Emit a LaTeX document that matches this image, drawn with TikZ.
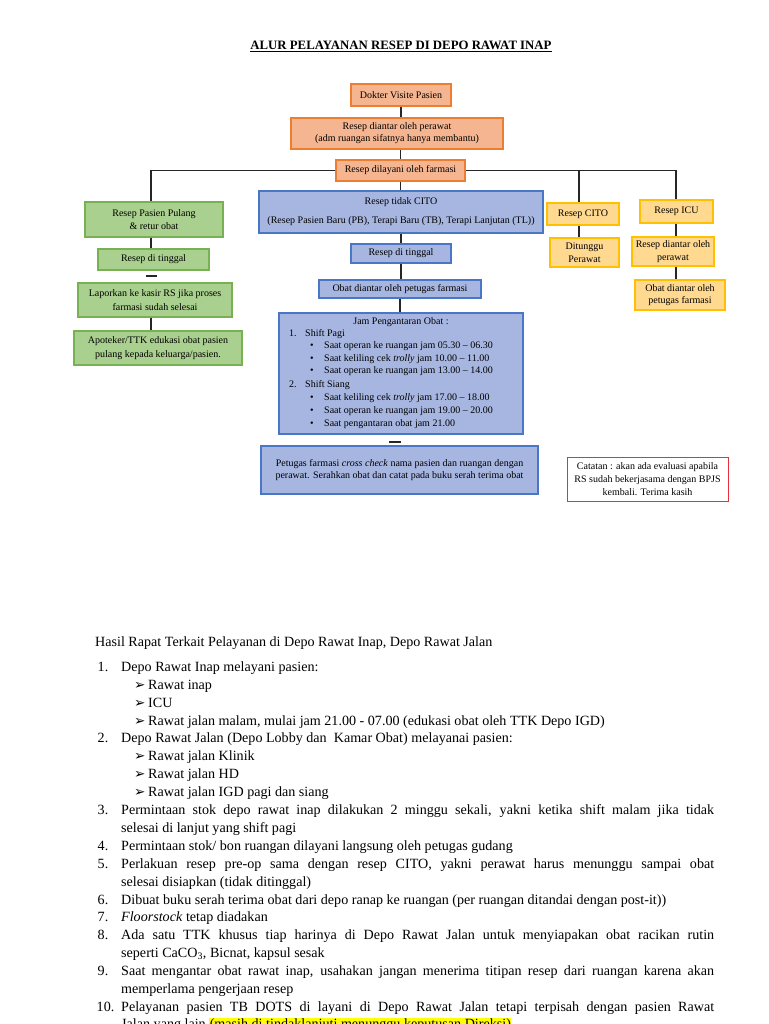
\documentclass[tikz,border=0pt]{standalone}
\usepackage{fontspec}
\setmainfont{Liberation Serif}
\newfontfamily\djv{DejaVu Sans}
\usetikzlibrary{calc}
\definecolor{salF}{HTML}{F5B590}
\definecolor{salD}{HTML}{ED7D31}
\definecolor{grnF}{HTML}{A9D08E}
\definecolor{grnD}{HTML}{77B152}
\definecolor{bluF}{HTML}{A7B6E1}
\definecolor{bluD}{HTML}{4A76C6}
\definecolor{yelF}{HTML}{FFD98F}
\definecolor{yelD}{HTML}{FFC000}
\definecolor{redD}{HTML}{E8303A}
\definecolor{hiY}{HTML}{FFFF00}
\begin{document}
\begin{tikzpicture}[x=1pt,y=-1pt,
  box/.style={draw, line width=1.1pt, inner sep=0pt, align=center,
    font=\fontsize{10}{13}\selectfont},
  sal/.style={box, fill=salF, draw=salD},
  grn/.style={box, fill=grnF, draw=grnD},
  blu/.style={box, fill=bluF, draw=bluD},
  yel/.style={box, fill=yelF, draw=yelD},
  conn/.style={draw=black!85, line width=1.2pt},
  lt/.style={anchor=mid west, inner sep=0pt, font=\fontsize{10}{12}\selectfont},
  bt/.style={anchor=mid west, inner sep=0pt, font=\fontsize{14.1}{17}\selectfont},
  arr/.style={anchor=mid west, inner sep=0pt, font=\djv\fontsize{13.5}{14}\selectfont}
]
\useasboundingbox (0,0) rectangle (768,1024);
\fill[white] (0,0) rectangle (768,1024);

% title
\node[inner sep=0pt, font=\bfseries\fontsize{12.8}{14}\selectfont] (title) at (401,46) {\underline{ALUR PELAYANAN RESEP DI DEPO RAWAT INAP}};

% top chain
\node[sal, minimum width=100pt, minimum height=22pt] (dok) at (401,95) {Dokter Visite Pasien};
\node[sal, minimum width=212pt, minimum height=31pt, font=\fontsize{10}{12}\selectfont] (ant) at (397,133.5) {Resep diantar oleh perawat\\(adm ruangan sifatnya hanya membantu)};
\node[sal, minimum width=129pt, minimum height=21pt] (lay) at (400.5,170.5) {Resep dilayani oleh farmasi};

% green column
\node[grn, minimum width=138pt, minimum height=35pt] (pul) at (154,219.5) {Resep Pasien Pulang\\\& retur obat};
\node[grn, minimum width=111pt, minimum height=21pt] (tgG) at (153.5,259.5) {Resep di tinggal};
\node[grn, minimum width=154pt, minimum height=34pt, font=\fontsize{10}{14}\selectfont] (lap) at (155,300) {Laporkan ke kasir RS jika proses\\farmasi sudah selesai};
\node[grn, minimum width=168pt, minimum height=34pt, font=\fontsize{10}{14}\selectfont] (apo) at (158,348) {Apoteker/TTK edukasi obat pasien\\pulang kepada keluarga/pasien.};

% blue column
\node[blu, minimum width=284pt, minimum height=42pt] (tdk) at (401,212) {Resep tidak CITO\\[6pt](Resep Pasien Baru (PB), Terapi Baru (TB), Terapi Lanjutan (TL))};
\node[blu, minimum width=100pt, minimum height=19pt] (tgB) at (401,253.5) {Resep di tinggal};
\node[blu, minimum width=162pt, minimum height=18pt] (obt) at (400,289) {Obat diantar oleh petugas farmasi};
\node[blu, minimum width=244pt, minimum height=121pt] (jam) at (401,373.5) {};
\node[blu, minimum width=277pt, minimum height=48pt, font=\fontsize{10}{11.8}\selectfont] (ptg) at (399.5,470) {Petugas farmasi \textit{cross check} nama pasien dan ruangan dengan\\perawat. Serahkan obat dan catat pada buku serah terima obat};

% jam list
\node[lt, anchor=mid] (jt) at (401,322.7) {Jam Pengantaran Obat :};
\node[lt] (j1n) at (289,334) {1.};
\node[lt] (j1) at (305,334) {Shift Pagi};
\node[lt] (b1) at (310,346) {•};
\node[lt] (jb1) at (324,346) {Saat operan ke ruangan jam 05.30 – 06.30};
\node[lt] (b2) at (310,359) {•};
\node[lt] (jb2) at (324,359) {Saat keliling cek \textit{trolly} jam 10.00 – 11.00};
\node[lt] (b3) at (310,371.7) {•};
\node[lt] (jb3) at (324,371.7) {Saat operan ke ruangan jam 13.00 – 14.00};
\node[lt] (j2n) at (289,385) {2.};
\node[lt] (j2) at (305,385) {Shift Siang};
\node[lt] (b4) at (310,398) {•};
\node[lt] (jb4) at (324,398) {Saat keliling cek \textit{trolly} jam 17.00 – 18.00};
\node[lt] (b5) at (310,411) {•};
\node[lt] (jb5) at (324,411) {Saat operan ke ruangan jam 19.00 – 20.00};
\node[lt] (b6) at (310,424) {•};
\node[lt] (jb6) at (324,424) {Saat pengantaran obat jam 21.00};

% orange columns
\node[yel, minimum width=72pt, minimum height=22pt] (cito) at (583,214) {Resep CITO};
\node[yel, minimum width=69pt, minimum height=29pt] (tgu) at (584.5,252.5) {Ditunggu\\Perawat};
\node[yel, minimum width=73pt, minimum height=23pt] (icu) at (676.5,211.5) {Resep ICU};
\node[yel, minimum width=82pt, minimum height=29pt] (antI) at (673,251.5) {Resep diantar oleh\\perawat};
\node[yel, minimum width=90pt, minimum height=30pt, font=\fontsize{10}{12.5}\selectfont] (obtI) at (680,295) {Obat diantar oleh\\petugas farmasi};

% note
\node[box, fill=white, draw=redD, line width=0.9pt, minimum width=161pt, minimum height=44pt, font=\fontsize{10}{12.8}\selectfont] (cat) at (647.5,479) {Catatan : akan ada evaluasi apabila\\RS sudah bekerjasama dengan BPJS\\kembali. Terima kasih};

% helper coordinates
\coordinate (gx) at (151,0);
\coordinate (cx) at (579,0);
\coordinate (ix) at (676,0);
\coordinate (dG1) at (146,276);
\coordinate (dG2) at (157,276);
\coordinate (dB1) at (389,442);
\coordinate (dB2) at (401,442);

% connectors
\draw[conn] (dok.south) -- (dok.south |- ant.north);
\draw[conn] (lay.north) -- (lay.north |- ant.south);
\draw[conn] (lay.south) -- (lay.south |- tdk.north);
\draw[conn] (lay.west) -- (lay.west -| gx) -- (pul.north -| gx);
\draw[conn] (lay.east) -- (lay.east -| ix) -- (icu.north -| ix);
\draw[conn] (lay.east -| cx) -- (cito.north -| cx);
\draw[conn] (pul.south -| gx) -- (tgG.north -| gx);
\draw[conn] (dG1) -- (dG2);
\draw[conn] (lap.south -| gx) -- (apo.north -| gx);
\draw[conn] (tdk.south) -- (tdk.south |- tgB.north);
\draw[conn] (tgB.south) -- (tgB.south |- obt.north);
\draw[conn] (obt.south) -- (obt.south |- jam.north);
\draw[conn] (dB1) -- (dB2);
\draw[conn] (cito.south -| cx) -- (tgu.north -| cx);
\draw[conn] (icu.south -| ix) -- (antI.north -| ix);
\draw[conn] (antI.south -| ix) -- (obtI.north -| ix);

% bottom text
\node[bt] (h0) at (95,644) {Hasil Rapat Terkait Pelayanan di Depo Rawat Inap, Depo Rawat Jalan};
\node[bt] (n1) at (97.5,669) {1.};
\node[bt] (l1) at (121,669) {Depo Rawat Inap melayani pasien:};
\node[arr] (a1) at (134,686.9) {➢};
\node[bt] (s1) at (148,686.9) {Rawat inap};
\node[arr] (a2) at (134,704.8) {➢};
\node[bt] (s2) at (148,704.8) {ICU};
\node[arr] (a3) at (134,722.7) {➢};
\node[bt] (s3) at (148,722.7) {Rawat jalan malam, mulai jam 21.00 - 07.00 (edukasi obat oleh TTK Depo IGD)};
\node[bt] (n2) at (97.5,740.6) {2.};
\node[bt] (l2) at (121,740.6) {Depo Rawat Jalan (Depo Lobby dan\ \ Kamar Obat) melayanai pasien:};
\node[arr] (a4) at (134,758.5) {➢};
\node[bt] (s4) at (148,758.5) {Rawat jalan Klinik};
\node[arr] (a5) at (134,776.4) {➢};
\node[bt] (s5) at (148,776.4) {Rawat jalan HD};
\node[arr] (a6) at (134,794.3) {➢};
\node[bt] (s6) at (148,794.3) {Rawat jalan IGD pagi dan siang};
\node[bt] (n3) at (97.5,812.2) {3.};
\node[bt] (l3) at (121,812.2) {\makebox[593pt][s]{Permintaan stok depo rawat inap dilakukan 2 minggu sekali, yakni ketika shift malam jika tidak}};
\node[bt] (l3b) at (121,830.1) {selesai di lanjut yang shift pagi};
\node[bt] (n4) at (97.5,848) {4.};
\node[bt] (l4) at (121,848) {Permintaan stok/ bon ruangan dilayani langsung oleh petugas gudang};
\node[bt] (n5) at (97.5,865.9) {5.};
\node[bt] (l5) at (121,865.9) {\makebox[593pt][s]{Perlakuan resep pre-op sama dengan resep CITO, yakni perawat harus menunggu sampai obat}};
\node[bt] (l5b) at (121,883.8) {selesai disiapkan (tidak ditinggal)};
\node[bt] (n6) at (97.5,901.7) {6.};
\node[bt] (l6) at (121,901.7) {Dibuat buku serah terima obat dari depo ranap ke ruangan (per ruangan ditandai dengan post-it))};
\node[bt] (n7) at (97.5,919.6) {7.};
\node[bt] (l7) at (121,919.6) {\textit{Floorstock} tetap diadakan};
\node[bt] (n8) at (97.5,937.5) {8.};
\node[bt] (l8) at (121,937.5) {\makebox[593pt][s]{Ada satu TTK khusus tiap harinya di Depo Rawat Jalan untuk menyiapakan obat racikan rutin}};
\node[bt] (l8b) at (121,955.4) {seperti CaCO\textsubscript{3}, Bicnat, kapsul sesak};
\node[bt] (n9) at (97.5,973.3) {9.};
\node[bt] (l9) at (121,973.3) {\makebox[593pt][s]{Saat mengantar obat rawat inap, usahakan jangan menerima titipan resep dari ruangan karena akan}};
\node[bt] (l9b) at (121,991.2) {memperlama pengerjaan resep};
\node[bt] (n10) at (96.5,1009.1) {10.};
\node[bt] (l10) at (121,1009.1) {\makebox[593pt][s]{Pelayanan pasien TB DOTS di layani di Depo Rawat Jalan tetapi terpisah dengan pasien Rawat}};
\node[bt] (l10b) at (121,1026) {Jalan yang lain {\setlength{\fboxsep}{0.5pt}\colorbox{hiY}{(masih di tindaklanjuti menunggu keputusan Direksi)}}};
\end{tikzpicture}
\end{document}
